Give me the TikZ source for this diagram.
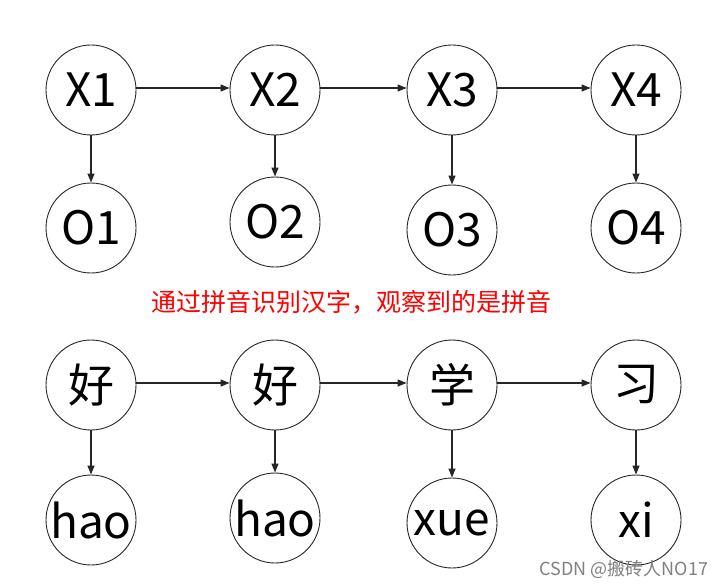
\documentclass[tikz,border=0pt]{standalone}
\usepackage{fontspec}
\setmainfont{Noto Sans CJK SC}
\usetikzlibrary{arrows.meta}
\begin{document}
\begin{tikzpicture}[x=1pt,y=-1pt,
  st/.style={circle,draw=black!85,line width=0.9pt,fill=white,minimum size=90pt,inner sep=0pt,font=\fontsize{46}{48}\selectfont},
  ar/.style={-{Triangle[length=9pt,width=7pt]},black!85,line width=1.3pt}]
\useasboundingbox (0,0) rectangle (727,588);
\foreach \n/\x/\y/\t in {a1/91/90/X1,a2/275/90/X2,a3/452/90/X3,a4/636/90/X4,
  b1/91/228/O1,b2/275/222/O2,b3/452/230/O3,b4/636/228/O4,
  c1/91/385/好,c2/275/385/好,c3/452/385/学,c4/636/385/习,
  d1/91/520/hao,d2/275/518/hao,d3/452/523/xue,d4/636/520/xi}
  \node[st] (\n) at (\x,\y) {\t};
\foreach \r/\s in {a/b,c/d}{
  \foreach \i in {1,2,3,4} \draw[ar] (\r\i) -- (\s\i);
  \foreach \i/\j in {1/2,2/3,3/4} \draw[ar] (\r\i.east) ++(0,-2) coordinate (p\r\i) -- (p\r\i -| \r\j.west);
}
\node[red,font=\fontsize{25}{28}\selectfont] (t) at (351,302) {通过拼音识别汉字，观察到的是拼音};
\node[gray,font=\fontsize{18}{20}\selectfont] (w) at (624,569) {CSDN @搬砖人NO17};
\end{tikzpicture}
\end{document}
